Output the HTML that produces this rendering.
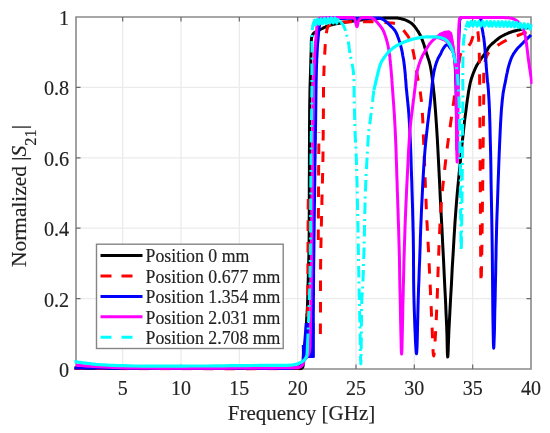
<!DOCTYPE html><html><head><meta charset="utf-8"><style>html,body{margin:0;padding:0;background:#fff;width:550px;height:433px;overflow:hidden}svg{display:block}text{font-family:"Liberation Serif",serif;fill:#222;stroke:#222;stroke-width:0.15px}</style></head><body><svg width="550" height="433" viewBox="0 0 550 433"><path d="M122.67 17.0V369.0M181.00 17.0V369.0M239.33 17.0V369.0M297.67 17.0V369.0M356.00 17.0V369.0M414.33 17.0V369.0M472.67 17.0V369.0M76.0 298.60H531.0M76.0 228.20H531.0M76.0 157.80H531.0M76.0 87.40H531.0" stroke="#ebebeb" stroke-width="1.3" fill="none"/><path d="M76.0 17.0H531.0V369.0H76.0Z" stroke="#8a8a8a" stroke-width="1.6" fill="none"/><path d="M122.67 369.0v-4.5M122.67 17.0v4.5M181.00 369.0v-4.5M181.00 17.0v4.5M239.33 369.0v-4.5M239.33 17.0v4.5M297.67 369.0v-4.5M297.67 17.0v4.5M356.00 369.0v-4.5M356.00 17.0v4.5M414.33 369.0v-4.5M414.33 17.0v4.5M472.67 369.0v-4.5M472.67 17.0v4.5M76.0 298.60h4.5M531.0 298.60h-4.5M76.0 228.20h4.5M531.0 228.20h-4.5M76.0 157.80h4.5M531.0 157.80h-4.5M76.0 87.40h4.5M531.0 87.40h-4.5" stroke="#6a6a6a" stroke-width="1.2" fill="none"/><defs><clipPath id="cp"><rect x="74.5" y="15.5" width="458" height="355"/></clipPath></defs><g clip-path="url(#cp)" fill="none" stroke-linejoin="round">
<path d="M74.0 368.3L76.2 368.3 82.1 368.3 90.9 368.3 101.9 368.3 114.1 368.3 126.7 368.3 139.0 368.3 150.0 368.3 162.1 368.3 175.0 368.3 188.2 368.3 201.6 368.3 214.8 368.3 227.4 368.3 239.3 368.3 250.0 368.3 256.8 368.3 263.5 368.3 270.0 368.3 276.2 368.2 282.0 368.2 287.1 368.2 291.5 368.3 295.0 368.3 296.0 368.3 297.0 368.4 297.8 368.5 298.6 368.6 299.3 368.7 299.9 368.7 300.5 368.6 301.0 368.5 301.3 368.4 301.6 368.2 301.8 368.1 302.1 367.9 302.3 367.7 302.5 367.5 302.6 367.3 302.8 367.0 303.0 366.5 303.1 366.0 303.2 365.4 303.2 364.8 303.2 364.1 303.2 363.4 303.3 362.7 303.3 362.0 303.4 361.2 303.5 360.4 303.5 359.5 303.6 358.7 303.7 357.8 303.8 356.9 303.9 355.9 304.0 355.0 304.1 353.8 304.2 352.6 304.4 351.4 304.5 350.1 304.6 348.8 304.7 347.5 304.9 346.3 305.0 345.0 305.1 343.8 305.3 342.5 305.4 341.3 305.5 340.1 305.7 338.9 305.8 337.6 305.9 336.3 306.0 335.0 306.1 333.3 306.2 331.5 306.3 329.6 306.3 327.7 306.4 325.8 306.4 323.8 306.5 321.9 306.6 320.0 306.7 318.2 306.8 316.3 306.9 314.5 307.1 312.7 307.2 310.9 307.3 309.0 307.4 307.1 307.5 305.0 307.6 302.2 307.7 299.3 307.8 296.2 307.9 293.0 308.0 289.8 308.0 286.6 308.1 283.3 308.2 280.0 308.3 276.5 308.4 273.1 308.5 269.7 308.6 266.2 308.7 262.5 308.8 258.7 308.9 254.5 309.0 250.0 309.1 240.9 309.2 230.5 309.2 219.0 309.3 206.9 309.3 194.5 309.3 182.4 309.4 170.7 309.4 160.0 309.4 151.8 309.5 143.6 309.5 135.6 309.5 127.8 309.6 120.3 309.6 113.1 309.7 106.3 309.8 100.0 309.9 96.0 309.9 92.2 310.0 88.6 310.1 85.1 310.2 81.8 310.3 78.5 310.4 75.3 310.5 72.0 310.6 69.1 310.7 66.2 310.8 63.3 310.8 60.5 310.9 57.7 311.0 55.0 311.1 52.5 311.2 50.0 311.2 48.2 311.3 46.3 311.2 44.5 311.3 42.8 311.3 41.2 311.4 39.6 311.5 38.2 311.8 37.0 312.0 36.4 312.2 35.8 312.4 35.2 312.7 34.7 312.9 34.3 313.3 33.8 313.6 33.4 314.0 33.0 314.5 32.5 315.1 32.1 315.7 31.8 316.4 31.4 317.1 31.1 317.9 30.7 318.6 30.4 319.4 30.0 320.3 29.5 321.3 29.0 322.4 28.5 323.4 27.9 324.5 27.4 325.6 26.9 326.6 26.4 327.7 26.0 328.7 25.6 329.7 25.3 330.7 25.0 331.7 24.8 332.7 24.5 333.8 24.3 334.9 24.0 336.0 23.8 337.6 23.5 339.2 23.2 341.0 22.9 342.7 22.6 344.5 22.3 346.4 22.0 348.2 21.8 350.0 21.5 351.8 21.2 353.7 21.0 355.6 20.7 357.5 20.4 359.3 20.2 361.2 19.9 363.1 19.7 365.0 19.5 366.9 19.3 368.7 19.1 370.6 19.0 372.4 18.8 374.3 18.6 376.2 18.5 378.1 18.4 380.0 18.3 382.1 18.2 384.3 18.1 386.6 18.0 388.8 17.9 391.0 17.9 393.1 17.9 395.0 17.9 396.6 18.0 397.4 18.1 398.2 18.2 398.9 18.3 399.5 18.4 400.1 18.5 400.7 18.7 401.4 18.8 402.0 19.0 402.6 19.2 403.2 19.3 403.9 19.5 404.5 19.7 405.1 19.9 405.7 20.2 406.3 20.4 406.9 20.7 407.6 21.0 408.3 21.4 409.0 21.7 409.7 22.1 410.4 22.6 411.0 23.0 411.7 23.5 412.3 24.0 412.9 24.6 413.5 25.2 414.1 25.9 414.7 26.6 415.2 27.3 415.7 28.0 416.2 28.7 416.7 29.4 417.1 30.0 417.5 30.6 417.9 31.1 418.3 31.7 418.6 32.3 419.0 32.9 419.3 33.5 419.7 34.2 420.2 35.1 420.6 36.1 421.1 37.1 421.5 38.1 421.9 39.2 422.4 40.3 422.8 41.4 423.2 42.5 423.7 43.8 424.1 45.1 424.5 46.5 424.9 47.9 425.4 49.4 425.8 50.8 426.2 52.2 426.6 53.6 427.0 54.9 427.5 56.2 427.9 57.5 428.3 58.7 428.8 60.1 429.2 61.5 429.6 63.0 430.0 64.7 430.7 68.0 431.3 71.6 431.9 75.6 432.4 79.8 433.0 84.4 433.5 89.3 434.1 94.5 434.6 100.0 435.5 111.2 436.4 124.2 437.3 138.4 438.1 153.5 438.9 169.2 439.7 184.9 440.4 200.3 441.2 215.0 442.0 229.3 442.7 244.2 443.5 259.3 444.2 274.3 444.9 288.7 445.6 302.2 446.1 314.4 446.6 325.0 446.8 330.4 447.0 335.8 447.1 341.2 447.2 346.2 447.3 350.5 447.4 353.9 447.6 356.2 447.7 357.0 447.9 356.2 448.0 354.0 448.2 350.6 448.3 346.2 448.5 341.3 448.7 335.9 448.9 330.4 449.2 325.0 449.8 313.7 450.5 300.0 451.4 284.8 452.2 268.6 453.2 252.4 454.1 236.7 455.0 222.3 455.9 210.0 456.4 203.4 456.9 197.4 457.4 191.7 457.9 186.4 458.4 181.2 458.9 176.0 459.4 170.6 460.0 165.0 460.6 158.7 461.3 152.2 461.9 145.6 462.6 139.0 463.3 132.5 464.0 126.1 464.7 119.9 465.5 114.0 466.1 109.3 466.7 104.6 467.3 100.1 468.0 95.6 468.6 91.3 469.4 87.3 470.1 83.5 471.0 80.0 471.6 77.9 472.3 75.9 473.0 74.0 473.7 72.2 474.4 70.5 475.1 68.9 475.8 67.4 476.5 66.0 477.0 65.1 477.4 64.3 477.9 63.6 478.3 62.9 478.8 62.2 479.3 61.5 479.8 60.8 480.3 60.0 481.0 59.0 481.7 58.0 482.4 57.0 483.2 56.0 483.9 54.9 484.7 53.9 485.4 52.9 486.0 52.0 486.5 51.3 486.9 50.6 487.3 49.9 487.6 49.2 488.0 48.5 488.4 47.8 488.8 47.2 489.3 46.6 489.8 46.0 490.3 45.5 490.8 45.0 491.3 44.5 491.8 44.0 492.4 43.5 493.0 43.0 493.6 42.5 494.4 41.8 495.2 41.1 496.0 40.4 496.9 39.7 497.8 39.0 498.7 38.3 499.6 37.6 500.5 37.0 501.3 36.5 502.2 36.0 503.1 35.5 504.0 35.1 504.9 34.6 505.7 34.2 506.6 33.9 507.4 33.5 508.0 33.2 508.7 33.0 509.3 32.7 509.8 32.5 510.4 32.3 511.1 32.0 511.7 31.8 512.4 31.6 513.4 31.3 514.5 31.0 515.6 30.7 516.8 30.4 518.0 30.1 519.2 29.9 520.4 29.6 521.6 29.3 522.9 29.0 524.4 28.6 525.9 28.2 527.5 27.9 528.8 27.5 530.0 27.3 530.7 27.1 531.0 27.0" stroke="#000" stroke-width="3.0"/>
<path d="M320.4 334.0L320.4 333.0 320.4 330.3 320.4 326.3 320.4 321.3 320.5 315.8 320.5 310.1 320.5 304.7 320.5 300.0 320.5 295.7 320.5 291.4 320.5 287.1 320.5 282.8 320.5 278.5 320.5 274.1 320.6 269.6 320.6 265.0 320.7 259.6 320.8 253.9 320.9 248.1 321.0 242.3 321.1 236.5 321.3 230.7 321.4 225.2 321.5 220.0 321.6 216.0 321.7 212.1 321.8 208.3 321.9 204.6 321.9 201.0 322.0 197.4 322.1 193.7 322.2 190.0 322.3 186.3 322.4 182.6 322.5 178.9 322.6 175.3 322.7 171.6 322.7 167.8 322.8 164.0 322.9 160.0 323.0 155.3 323.0 150.5 323.1 145.5 323.1 140.5 323.2 135.4 323.2 130.3 323.2 125.2 323.3 120.0 323.4 114.3 323.4 108.4 323.4 102.3 323.5 96.2 323.5 90.2 323.6 84.6 323.7 79.5 323.8 75.0 323.9 72.7 324.0 70.6 324.0 68.7 324.1 66.8 324.2 65.1 324.3 63.4 324.4 61.7 324.5 60.0 324.6 58.6 324.6 57.3 324.7 56.0 324.7 54.8 324.8 53.5 324.8 52.3 324.9 50.9 325.0 49.5 325.1 47.5 325.2 45.4 325.4 43.2 325.5 40.9 325.7 38.7 325.9 36.5 326.1 34.6 326.4 32.8 326.6 31.8 326.8 30.8 326.9 29.8 327.1 29.0 327.4 28.1 327.7 27.4 328.0 26.6 328.5 26.0 329.1 25.4 329.7 24.9 330.4 24.5 331.2 24.1 332.0 23.8 332.9 23.5 333.8 23.3 334.7 23.0 335.8 22.7 337.0 22.5 338.2 22.4 339.4 22.3 340.7 22.2 342.1 22.1 343.5 22.1 345.0 22.0 347.4 21.9 350.0 21.8 352.9 21.8 355.8 21.7 358.7 21.7 361.5 21.7 363.9 21.7 366.0 21.7 366.9 21.7 367.7 21.7 368.4 21.7 369.1 21.7 369.7 21.7 370.4 21.7 371.2 21.7 372.0 21.7 373.4 21.7 374.9 21.8 376.5 21.9 378.2 22.0 379.9 22.1 381.6 22.2 383.3 22.3 385.0 22.5 386.7 22.7 388.5 22.8 390.2 22.9 392.0 23.1 393.7 23.3 395.3 23.6 396.8 24.0 398.0 24.5 398.7 24.9 399.2 25.3 399.7 25.8 400.2 26.3 400.6 26.8 401.0 27.4 401.5 28.0 402.0 28.6 402.8 29.6 403.7 30.6 404.7 31.8 405.6 33.0 406.6 34.3 407.5 35.5 408.3 36.8 409.0 38.0 409.5 39.1 410.0 40.1 410.4 41.2 410.7 42.2 411.1 43.3 411.4 44.4 411.7 45.5 412.0 46.7 412.4 48.1 412.7 49.5 413.0 51.0 413.4 52.5 413.7 54.0 414.0 55.6 414.3 57.3 414.6 59.0 415.0 61.4 415.4 63.9 415.9 66.5 416.3 69.2 416.7 71.9 417.2 74.7 417.6 77.4 418.0 80.0 418.4 82.5 418.9 84.8 419.3 87.1 419.7 89.5 420.2 91.8 420.6 94.4 420.9 97.1 421.3 100.0 421.8 105.1 422.2 110.8 422.6 116.8 422.9 123.2 423.1 129.8 423.4 136.5 423.7 143.3 424.0 150.0 424.3 157.9 424.7 166.1 425.0 174.6 425.3 183.2 425.6 191.7 426.0 200.0 426.3 207.8 426.6 215.0 426.8 219.8 427.1 224.2 427.3 228.3 427.5 232.3 427.8 236.4 428.0 240.6 428.2 245.1 428.5 250.0 428.9 258.2 429.3 267.5 429.8 277.5 430.3 287.8 430.7 298.0 431.2 307.9 431.6 317.0 432.0 325.0 432.2 329.9 432.4 335.2 432.6 340.3 432.8 345.2 433.0 349.5 433.2 352.9 433.5 355.2 433.7 356.0 434.0 355.2 434.2 353.1 434.5 349.8 434.8 345.6 435.1 340.8 435.4 335.6 435.7 330.2 436.0 325.0 436.5 313.9 437.1 300.7 437.6 285.8 438.1 270.1 438.7 254.1 439.3 238.7 440.0 224.4 440.7 212.0 441.2 204.8 441.8 198.1 442.3 191.8 442.9 185.8 443.5 179.9 444.1 174.1 444.8 168.2 445.5 162.0 446.3 155.4 447.1 148.7 448.0 141.9 448.9 135.2 449.9 128.5 450.8 122.0 451.7 115.8 452.5 110.0 453.1 105.8 453.7 101.9 454.2 98.1 454.8 94.4 455.3 90.8 455.9 87.2 456.4 83.6 457.0 80.0 457.5 76.2 458.0 72.2 458.4 68.1 458.8 64.0 459.3 60.2 459.9 56.8 460.6 54.0 461.5 52.0 461.9 51.5 462.3 51.1 462.7 50.8 463.2 50.5 463.6 50.3 464.1 50.1 464.5 49.8 465.0 49.5 465.6 48.9 466.3 48.3 466.9 47.7 467.6 47.0 468.3 46.3 468.9 45.5 469.5 44.8 470.0 44.0 470.5 43.2 470.9 42.4 471.2 41.5 471.6 40.6 471.9 39.7 472.2 38.8 472.5 37.9 472.8 37.0 473.1 36.1 473.3 35.1 473.5 34.1 473.8 33.0 474.0 32.1 474.2 31.2 474.5 30.5 474.9 30.0 475.1 29.8 475.4 29.6 475.7 29.4 476.0 29.3 476.3 29.2 476.5 29.2 476.8 29.2 477.0 29.3 477.3 29.6 477.5 30.1 477.7 30.9 477.9 31.7 478.0 32.6 478.1 33.6 478.2 34.6 478.3 35.6 478.5 37.1 478.6 38.6 478.7 40.2 478.9 41.9 478.9 43.7 479.0 45.6 479.1 47.7 479.2 50.0 479.3 54.6 479.4 59.6 479.5 65.2 479.6 71.2 479.6 77.6 479.7 84.6 479.7 92.0 479.8 100.0 479.9 119.9 480.1 146.3 480.2 176.3 480.4 207.2 480.5 236.1 480.7 260.3 480.9 276.9 481.1 283.0 481.3 280.6 481.4 274.1 481.6 264.4 481.8 252.4 482.0 239.0 482.2 225.2 482.3 211.9 482.5 200.0 482.7 187.6 482.8 174.5 483.0 160.9 483.1 147.4 483.3 134.2 483.4 121.6 483.5 110.1 483.7 100.0 483.8 94.6 483.7 89.5 483.7 84.7 483.7 80.2 483.7 75.9 483.8 72.0 484.1 68.3 484.5 65.0 484.8 63.2 485.1 61.5 485.5 59.9 485.9 58.5 486.4 57.1 486.9 55.8 487.4 54.7 488.0 53.6 488.5 52.9 489.0 52.3 489.5 51.8 490.0 51.3 490.6 50.9 491.1 50.4 491.7 50.0 492.3 49.5 492.9 49.0 493.6 48.4 494.3 47.9 495.0 47.3 495.7 46.8 496.4 46.3 497.1 45.8 497.8 45.3 498.5 44.8 499.2 44.4 499.9 43.9 500.6 43.5 501.3 43.0 502.0 42.6 502.7 42.2 503.4 41.8 504.1 41.4 504.7 41.1 505.4 40.7 506.0 40.4 506.7 40.0 507.4 39.7 508.1 39.4 508.9 39.0 510.0 38.5 511.2 38.0 512.4 37.5 513.7 37.0 515.0 36.5 516.3 36.0 517.7 35.5 519.0 35.0 520.6 34.4 522.5 33.7 524.5 32.9 526.4 32.2 528.2 31.5 529.7 31.0 530.6 30.6 531.0 30.5" stroke="#f00" stroke-width="3.0" stroke-dasharray="10.5 11"/>
<path d="M74.0 368.3L82.6 368.4 105.6 368.5 138.4 368.7 176.7 368.8 215.9 368.9 251.7 368.9 279.5 368.7 295.0 368.3 296.2 368.2 297.2 368.2 298.0 368.1 298.7 368.1 299.3 368.0 299.9 367.9 300.4 367.7 301.0 367.5 301.5 367.3 301.9 367.1 302.3 366.8 302.7 366.6 303.0 366.2 303.4 365.9 303.7 365.5 304.0 365.0 304.5 363.9 304.8 362.6 305.1 361.0 305.3 359.3 305.5 357.5 305.7 355.6 305.8 353.8 306.0 352.0 306.2 350.0 306.4 348.1 306.6 346.1 306.7 344.0 306.9 341.9 307.0 339.7 307.1 337.4 307.2 335.0 307.3 331.3 307.4 327.4 307.5 323.3 307.6 319.0 307.6 314.6 307.6 309.9 307.7 305.0 307.7 300.0 307.8 292.2 307.8 283.6 307.9 274.5 307.9 265.0 308.0 255.5 308.0 246.4 308.1 237.8 308.1 230.0 308.1 224.6 308.2 218.8 308.2 212.9 308.2 207.4 308.3 202.5 308.3 198.5 308.3 195.9 308.3 195.0" stroke="#f00" stroke-width="3.0" stroke-dasharray="10.5 11"/>
<path d="M318.3 240.0L318.3 238.8 318.3 235.6 318.3 230.9 318.4 225.0 318.4 218.5 318.4 211.9 318.5 205.5 318.5 200.0 318.5 195.0 318.5 189.8 318.6 184.7 318.6 179.6 318.6 174.5 318.6 169.5 318.7 164.7 318.7 160.0 318.7 155.9 318.8 151.3 318.8 146.7 318.9 142.2 318.9 138.2 319.0 134.9 319.0 132.8 319.0 132.0" stroke="#f00" stroke-width="3.0" stroke-dasharray="10.5 11"/>
<path d="M313.2 357.0L313.2 356.0 313.2 353.1 313.2 348.9 313.2 343.6 313.2 337.7 313.3 331.5 313.3 325.5 313.3 320.0 313.3 313.7 313.4 307.1 313.4 300.4 313.5 293.5 313.5 286.4 313.6 279.3 313.6 272.2 313.7 265.0 313.8 257.0 313.9 248.8 314.0 240.3 314.1 231.9 314.2 223.5 314.3 215.3 314.4 207.4 314.5 200.0 314.6 194.5 314.6 189.2 314.7 184.0 314.8 179.0 314.8 174.2 314.9 169.4 314.9 164.7 315.0 160.0 315.1 156.1 315.1 152.4 315.2 148.9 315.2 145.4 315.3 141.8 315.4 138.1 315.4 134.2 315.5 130.0 315.6 123.2 315.7 115.5 315.8 107.2 315.9 98.8 316.0 90.5 316.1 82.7 316.3 75.7 316.4 70.0 316.5 67.6 316.5 65.5 316.6 63.6 316.7 61.9 316.7 60.2 316.8 58.5 316.9 56.8 317.0 55.0 317.1 53.1 317.2 51.3 317.3 49.4 317.4 47.6 317.5 45.7 317.6 43.8 317.8 41.9 318.0 40.0 318.2 37.7 318.4 35.2 318.6 32.6 318.9 30.0 319.2 27.5 319.6 25.3 320.1 23.4 320.8 22.0 321.2 21.5 321.6 21.0 322.1 20.7 322.6 20.4 323.1 20.1 323.7 19.9 324.3 19.7 325.0 19.5 326.4 19.2 327.9 18.9 329.7 18.8 331.6 18.7 333.6 18.6 335.7 18.6 337.8 18.6 340.0 18.5 343.4 18.4 347.2 18.3 351.2 18.3 355.4 18.2 359.5 18.2 363.4 18.2 366.9 18.2 370.0 18.2 371.5 18.2 373.0 18.1 374.3 18.1 375.6 18.0 376.8 18.0 377.9 18.0 379.0 18.1 380.0 18.3 380.7 18.5 381.4 18.7 382.1 19.0 382.7 19.3 383.3 19.7 383.9 20.0 384.4 20.4 385.0 20.8 385.6 21.2 386.1 21.7 386.7 22.2 387.2 22.7 387.8 23.2 388.3 23.7 388.8 24.2 389.4 24.8 390.1 25.4 390.8 26.1 391.5 26.8 392.2 27.4 393.0 28.1 393.6 28.9 394.3 29.7 394.9 30.5 395.5 31.5 396.1 32.6 396.6 33.7 397.1 34.9 397.6 36.1 398.0 37.3 398.5 38.5 398.9 39.7 399.3 40.9 399.7 42.0 400.0 43.2 400.4 44.3 400.7 45.5 401.0 46.8 401.3 48.1 401.6 49.4 402.0 51.2 402.4 53.2 402.7 55.2 403.1 57.2 403.5 59.3 403.8 61.5 404.1 63.7 404.4 66.0 404.7 68.8 405.0 71.7 405.3 74.8 405.5 77.9 405.8 81.0 406.0 84.0 406.2 87.1 406.5 90.0 406.8 92.6 407.0 95.1 407.3 97.6 407.5 100.1 407.8 102.6 408.0 105.0 408.3 107.5 408.5 110.0 408.7 112.4 408.9 114.7 409.0 117.0 409.2 119.3 409.3 121.7 409.5 124.2 409.6 127.0 409.8 130.0 410.1 136.0 410.4 142.9 410.7 150.4 411.0 158.3 411.2 166.5 411.5 174.6 411.8 182.5 412.0 190.0 412.2 196.4 412.4 202.7 412.6 208.9 412.7 215.0 412.9 221.1 413.0 227.3 413.2 233.6 413.3 240.0 413.4 247.3 413.5 254.7 413.5 262.2 413.6 269.9 413.6 277.5 413.7 285.1 413.8 292.6 414.0 300.0 414.2 307.6 414.5 316.2 414.8 325.1 415.2 333.8 415.5 341.6 415.9 348.0 416.2 352.2 416.5 353.8 416.7 352.2 417.0 347.9 417.2 341.4 417.4 333.5 417.6 324.8 417.8 315.8 418.0 307.4 418.2 300.0 418.4 293.6 418.6 287.2 418.9 280.7 419.1 274.3 419.3 268.0 419.6 261.8 419.8 255.8 420.0 250.0 420.2 245.4 420.3 241.1 420.4 236.9 420.6 232.8 420.7 228.6 420.9 224.4 421.1 219.8 421.3 215.0 421.6 207.8 422.0 199.9 422.4 191.7 422.8 183.2 423.3 174.6 423.8 166.1 424.4 157.8 425.0 150.0 425.6 143.3 426.3 136.7 427.0 130.1 427.7 123.7 428.5 117.4 429.2 111.3 430.0 105.5 430.6 100.0 431.0 96.0 431.4 92.2 431.8 88.4 432.1 84.8 432.5 81.3 432.9 78.0 433.4 74.9 433.9 72.0 434.3 70.1 434.8 68.2 435.2 66.5 435.7 64.8 436.2 63.2 436.7 61.7 437.3 60.3 437.8 59.0 438.2 58.2 438.6 57.4 439.0 56.7 439.4 56.0 439.8 55.4 440.1 54.8 440.5 54.2 440.8 53.6 441.0 53.2 441.1 52.9 441.2 52.5 441.4 52.2 441.5 51.9 441.6 51.5 441.8 51.2 442.0 50.8 442.5 50.0 443.0 49.1 443.6 48.1 444.3 47.1 445.0 46.1 445.7 45.4 446.4 44.8 447.0 44.6 447.4 44.7 447.9 45.0 448.3 45.4 448.7 45.9 449.1 46.4 449.5 47.0 449.8 47.5 450.2 48.0 450.5 48.4 450.9 48.7 451.2 49.0 451.5 49.4 451.8 49.7 452.1 50.1 452.3 50.5 452.6 51.0 452.9 51.7 453.2 52.5 453.5 53.3 453.7 54.2 453.9 55.1 454.1 56.2 454.3 57.3 454.5 58.5 454.8 61.3 455.1 64.6 455.3 68.3 455.5 72.3 455.6 76.5 455.7 80.9 455.9 85.4 456.0 90.0 456.2 97.4 456.3 106.5 456.5 116.4 456.6 126.3 456.7 135.4 456.8 143.0 456.9 148.1 457.0 150.0 457.1 148.2 457.2 143.4 457.4 136.3 457.5 127.5 457.6 117.8 457.7 107.8 457.9 98.3 458.0 90.0 458.1 82.2 458.2 73.9 458.3 65.5 458.4 57.1 458.5 49.1 458.7 41.8 459.0 35.3 459.3 30.0 459.4 28.0 459.5 26.1 459.5 24.3 459.5 22.7 459.6 21.2 459.9 19.9 460.3 18.8 461.0 18.0 461.8 17.5 462.7 17.4 463.8 17.4 465.0 17.4 466.3 17.4 467.6 17.4 468.8 17.5 470.0 17.5 471.3 17.4 472.7 17.4 474.1 17.4 475.5 17.4 476.8 17.4 478.1 17.4 479.1 17.5 480.0 18.0 480.6 18.7 481.0 19.6 481.2 20.7 481.4 21.9 481.5 23.1 481.5 24.4 481.6 25.7 481.8 27.0 482.1 28.5 482.4 30.0 482.7 31.6 483.0 33.2 483.2 34.8 483.5 36.4 483.8 38.1 484.0 39.7 484.2 41.4 484.4 43.1 484.6 44.8 484.7 46.5 484.9 48.2 485.0 50.0 485.1 51.8 485.3 53.6 485.5 55.7 485.6 57.9 485.8 60.1 486.0 62.4 486.1 64.7 486.3 67.1 486.5 69.5 486.7 72.0 487.0 75.1 487.2 78.1 487.5 81.2 487.9 84.4 488.2 87.8 488.5 91.5 488.7 95.5 489.0 100.0 489.5 110.6 489.9 123.1 490.2 137.0 490.6 152.1 490.9 167.8 491.1 183.8 491.4 199.7 491.7 215.0 492.0 233.0 492.3 253.9 492.5 275.9 492.7 297.6 492.9 317.3 493.2 333.4 493.4 344.2 493.7 348.2 493.9 346.2 494.1 340.7 494.4 332.5 494.6 322.5 494.8 311.5 495.1 300.1 495.3 289.4 495.5 280.0 495.7 271.9 495.8 264.1 496.0 256.3 496.1 248.6 496.3 240.7 496.5 232.5 496.7 224.0 497.0 215.0 497.5 201.5 498.0 186.3 498.6 170.0 499.2 153.5 499.9 137.4 500.6 122.7 501.4 109.9 502.3 100.0 502.7 96.8 503.0 94.1 503.4 91.6 503.8 89.4 504.2 87.3 504.6 85.2 505.1 83.2 505.5 81.0 505.9 78.9 506.3 76.8 506.7 74.7 507.2 72.6 507.6 70.6 508.0 68.6 508.5 66.8 509.0 65.0 509.4 63.7 509.8 62.5 510.2 61.3 510.6 60.2 511.0 59.1 511.4 58.0 511.9 56.9 512.4 55.9 512.9 55.0 513.4 54.0 514.0 53.1 514.6 52.3 515.2 51.4 515.8 50.6 516.4 49.8 517.0 49.0 517.5 48.4 518.1 47.7 518.6 47.2 519.2 46.6 519.8 46.1 520.4 45.5 521.0 44.9 521.6 44.3 522.4 43.5 523.3 42.6 524.2 41.6 525.2 40.7 526.1 39.8 527.0 38.9 527.8 38.1 528.5 37.4 528.9 37.0 529.3 36.6 529.7 36.2 530.1 35.8 530.5 35.5 530.8 35.2 530.9 35.1 531.0 35.0" stroke="#00f" stroke-width="3.0"/>
<path d="M74.0 368.0L76.2 368.0 82.1 368.0 90.9 368.1 101.9 368.1 114.1 368.2 126.7 368.2 139.0 368.3 150.0 368.3 162.1 368.3 175.0 368.3 188.2 368.4 201.6 368.4 214.8 368.4 227.4 368.3 239.3 368.3 250.0 368.3 256.8 368.3 263.6 368.4 270.3 368.4 276.7 368.5 282.5 368.5 287.6 368.4 291.8 368.3 295.0 368.0 295.7 367.9 296.3 367.8 296.9 367.7 297.4 367.6 297.8 367.5 298.2 367.4 298.6 367.2 299.0 367.0 299.4 366.8 299.7 366.5 300.1 366.2 300.4 365.9 300.7 365.6 301.0 365.3 301.2 364.9 301.5 364.5 301.8 364.0 302.0 363.6 302.2 363.1 302.4 362.5 302.6 362.0 302.7 361.4 302.9 360.7 303.0 360.0 303.2 358.3 303.3 356.2 303.4 353.7 303.4 351.2 303.4 348.8 303.3 346.9 303.3 345.5 303.3 345.0" stroke="#00f" stroke-width="3.0"/>
<path d="M302.5 360.5L303 345L304.8 323L314.5 323L314.5 358L305 358Z" fill="#00f"/>
<path d="M76.0 365.2L76.4 365.2 77.5 365.3 79.1 365.5 81.1 365.6 83.3 365.8 85.7 366.0 87.9 366.2 90.0 366.3 92.3 366.4 94.7 366.6 97.2 366.7 99.7 366.8 102.2 367.0 104.8 367.1 107.4 367.2 110.0 367.3 112.8 367.4 115.6 367.5 118.3 367.6 121.1 367.7 124.0 367.8 127.1 367.9 130.4 367.9 134.0 368.0 140.6 368.1 148.1 368.1 156.1 368.2 164.6 368.2 173.3 368.2 182.3 368.2 191.2 368.2 200.0 368.2 210.1 368.2 220.9 368.2 232.2 368.1 243.5 368.1 254.3 368.0 264.3 367.9 273.0 367.9 280.0 367.8 282.5 367.8 284.8 367.7 286.8 367.7 288.7 367.7 290.5 367.7 292.1 367.6 293.6 367.6 295.0 367.5 295.8 367.5 296.5 367.4 297.2 367.4 297.8 367.4 298.4 367.4 299.0 367.3 299.5 367.2 300.0 367.0 300.4 366.8 300.7 366.6 301.1 366.4 301.4 366.2 301.7 365.9 302.0 365.6 302.2 365.3 302.5 365.0 302.8 364.5 303.1 363.9 303.3 363.3 303.5 362.6 303.7 361.9 304.0 361.2 304.2 360.6 304.5 360.0 304.8 359.6 305.1 359.2 305.4 358.8 305.7 358.5 306.1 358.2 306.4 357.8 306.7 357.4 307.0 357.0 307.3 356.5 307.7 355.9 308.0 355.4 308.3 354.8 308.6 354.2 308.8 353.5 309.1 352.8 309.3 352.0 309.6 350.4 309.8 348.5 310.0 346.5 310.0 344.2 310.1 341.9 310.1 339.6 310.1 337.3 310.2 335.0 310.3 332.6 310.3 330.2 310.4 327.7 310.4 325.2 310.5 322.7 310.5 320.2 310.6 317.6 310.6 315.0 310.7 312.0 310.7 309.1 310.8 306.1 310.9 303.0 310.9 299.9 311.0 296.7 311.0 293.4 311.1 290.0 311.2 285.6 311.2 281.0 311.3 276.4 311.4 271.6 311.4 266.6 311.5 261.3 311.5 255.8 311.6 250.0 311.7 240.3 311.8 229.6 311.9 218.1 312.1 206.1 312.2 194.0 312.3 182.1 312.4 170.6 312.5 160.0 312.6 151.8 312.6 143.6 312.7 135.6 312.7 127.8 312.8 120.3 312.8 113.1 312.9 106.3 313.0 100.0 313.1 96.0 313.2 92.2 313.3 88.6 313.4 85.1 313.5 81.8 313.6 78.5 313.8 75.3 313.9 72.0 314.0 69.1 314.1 66.2 314.3 63.3 314.4 60.5 314.6 57.7 314.7 55.0 314.8 52.5 315.0 50.0 315.1 48.2 315.2 46.5 315.4 44.8 315.5 43.2 315.6 41.6 315.7 40.1 315.9 38.5 316.0 37.0 316.1 35.6 316.2 34.1 316.3 32.7 316.4 31.3 316.6 29.9 316.7 28.5 316.8 27.2 317.0 26.0 317.1 25.0 317.2 24.0 317.3 23.0 317.4 22.0 317.5 21.1 317.7 20.3 318.1 19.6 318.5 19.0 319.1 18.6 319.7 18.3 320.5 18.1 321.3 18.0 322.1 18.0 323.1 17.9 324.0 17.9 325.0 17.8 326.6 17.7 328.4 17.6 330.3 17.5 332.3 17.5 334.3 17.5 336.3 17.5 338.2 17.5 340.0 17.5 341.4 17.5 342.7 17.5 344.1 17.4 345.4 17.4 346.7 17.4 347.9 17.4 349.0 17.5 350.0 17.5 350.6 17.5 351.2 17.5 351.7 17.5 352.3 17.5 352.8 17.6 353.2 17.6 353.6 17.8 354.0 18.0 354.3 18.3 354.6 18.7 354.8 19.2 354.9 19.8 355.1 20.3 355.2 20.9 355.3 21.5 355.5 22.0 355.7 22.6 355.9 23.3 356.1 24.1 356.3 24.9 356.5 25.5 356.6 26.1 356.8 26.5 357.0 26.6 357.2 26.4 357.3 25.9 357.5 25.2 357.7 24.4 357.8 23.4 358.0 22.5 358.2 21.7 358.5 21.0 358.7 20.5 359.0 20.1 359.3 19.7 359.5 19.3 359.8 18.9 360.2 18.6 360.6 18.3 361.0 18.0 361.7 17.7 362.5 17.6 363.4 17.5 364.3 17.4 365.3 17.5 366.2 17.5 367.2 17.5 368.0 17.6 368.7 17.6 369.3 17.7 370.0 17.8 370.6 17.8 371.3 17.9 371.9 18.1 372.4 18.3 373.0 18.5 373.5 18.8 374.0 19.1 374.4 19.5 374.8 19.9 375.2 20.3 375.6 20.7 376.0 21.1 376.4 21.5 376.7 21.9 377.1 22.2 377.4 22.6 377.7 22.9 378.0 23.3 378.3 23.7 378.7 24.1 379.0 24.5 379.4 25.0 379.9 25.6 380.4 26.2 380.9 26.8 381.3 27.4 381.8 28.1 382.3 28.8 382.7 29.5 383.2 30.5 383.7 31.6 384.2 32.7 384.6 33.9 385.1 35.2 385.5 36.4 385.9 37.7 386.3 39.0 386.7 40.4 387.1 41.9 387.5 43.4 387.8 44.9 388.2 46.5 388.5 48.1 388.8 49.8 389.1 51.5 389.4 53.8 389.8 56.2 390.0 58.7 390.3 61.3 390.5 63.9 390.8 66.5 391.0 69.1 391.2 71.6 391.4 73.9 391.6 76.1 391.8 78.2 391.9 80.4 392.1 82.6 392.2 84.9 392.4 87.4 392.6 90.0 392.9 94.2 393.2 98.7 393.6 103.5 393.9 108.5 394.3 113.7 394.6 119.1 394.9 124.5 395.2 130.0 395.5 136.9 395.8 144.1 396.1 151.6 396.3 159.2 396.6 167.0 396.8 174.7 397.1 182.4 397.3 190.0 397.6 197.5 397.8 205.1 398.1 212.7 398.3 220.3 398.6 227.9 398.8 235.4 399.0 242.8 399.2 250.0 399.4 256.5 399.5 262.8 399.6 269.0 399.7 275.2 399.8 281.3 399.9 287.5 400.1 293.7 400.2 300.0 400.4 307.4 400.5 315.9 400.7 324.8 400.9 333.6 401.1 341.6 401.2 348.0 401.4 352.4 401.6 354.0 401.8 352.4 402.0 348.0 402.1 341.6 402.3 333.6 402.5 324.8 402.7 315.9 402.8 307.4 403.0 300.0 403.2 293.7 403.3 287.5 403.5 281.3 403.6 275.2 403.8 269.0 403.9 262.8 404.1 256.5 404.3 250.0 404.5 242.8 404.8 235.4 405.0 227.9 405.3 220.3 405.6 212.7 405.9 205.1 406.3 197.5 406.6 190.0 407.0 182.3 407.4 174.3 407.8 166.2 408.2 158.2 408.6 150.3 409.1 142.9 409.5 136.1 410.0 130.0 410.3 126.7 410.6 123.7 410.9 120.9 411.2 118.3 411.5 115.7 411.9 113.2 412.2 110.6 412.5 108.0 412.8 105.4 413.1 102.9 413.4 100.3 413.8 97.8 414.1 95.3 414.4 92.8 414.7 90.4 415.0 88.0 415.2 85.9 415.5 83.8 415.7 81.8 415.9 79.8 416.1 77.8 416.3 75.8 416.6 73.9 417.0 72.0 417.4 70.3 417.8 68.6 418.3 66.9 418.8 65.2 419.3 63.6 419.9 62.0 420.4 60.5 421.0 59.0 421.5 57.9 422.0 56.8 422.5 55.7 423.0 54.7 423.6 53.8 424.1 52.8 424.7 51.8 425.3 50.8 425.9 49.7 426.6 48.7 427.2 47.6 427.9 46.5 428.6 45.5 429.3 44.4 430.0 43.4 430.8 42.5 431.6 41.6 432.4 40.8 433.3 39.9 434.2 39.1 435.1 38.3 436.0 37.6 436.9 36.9 437.8 36.3 438.5 35.8 439.2 35.4 439.9 35.0 440.6 34.6 441.3 34.3 442.0 34.0 442.6 33.7 443.3 33.5 443.8 33.3 444.4 33.2 445.0 33.0 445.5 32.9 446.0 32.8 446.5 32.8 447.0 32.8 447.5 32.8 447.9 32.9 448.2 32.9 448.5 33.0 448.8 33.1 449.1 33.3 449.4 33.5 449.7 33.7 450.0 34.0 450.5 34.9 451.0 36.2 451.4 37.8 451.8 39.5 452.1 41.4 452.4 43.3 452.7 45.1 453.0 46.7 453.2 48.1 453.4 49.5 453.6 50.8 453.8 52.2 453.9 53.6 454.1 54.9 454.2 56.4 454.4 57.8 454.6 59.4 454.8 61.0 455.0 62.6 455.2 64.2 455.3 65.9 455.5 67.7 455.7 69.8 455.8 72.0 456.0 77.5 456.2 84.1 456.3 91.6 456.3 99.6 456.3 107.8 456.4 115.8 456.4 123.3 456.5 130.0 456.6 134.9 456.7 140.2 456.8 145.5 456.8 150.6 456.9 155.1 457.0 158.7 457.1 161.1 457.2 162.0 457.3 160.2 457.4 155.2 457.5 147.8 457.6 138.7 457.7 128.6 457.8 118.3 457.9 108.5 458.0 100.0 458.1 92.2 458.1 84.1 458.2 75.9 458.3 67.7 458.3 59.9 458.4 52.5 458.5 45.8 458.6 40.0 458.7 37.2 458.7 34.5 458.7 31.9 458.8 29.5 458.9 27.3 458.9 25.3 459.1 23.6 459.2 22.0 459.3 21.3 459.3 20.7 459.4 20.1 459.4 19.6 459.5 19.1 459.6 18.7 459.8 18.3 460.0 18.0 460.2 17.8 460.4 17.7 460.6 17.6 460.8 17.6 461.1 17.5 461.4 17.5 461.7 17.4 462.0 17.4 462.7 17.4 463.5 17.4 464.4 17.4 465.3 17.4 466.4 17.4 467.5 17.4 468.7 17.5 470.0 17.5 472.9 17.5 476.5 17.5 480.4 17.4 484.6 17.4 488.9 17.4 493.0 17.4 496.7 17.4 500.0 17.5 501.9 17.6 503.6 17.6 505.3 17.7 506.9 17.7 508.5 17.8 509.9 18.0 511.2 18.2 512.4 18.5 513.1 18.7 513.8 19.0 514.3 19.3 514.9 19.6 515.4 19.9 515.9 20.2 516.5 20.6 517.0 21.0 517.6 21.5 518.2 22.0 518.8 22.6 519.4 23.2 520.0 23.8 520.6 24.5 521.1 25.2 521.6 25.9 522.1 26.8 522.6 27.8 523.1 28.8 523.5 29.9 523.9 31.1 524.3 32.3 524.6 33.6 525.0 35.0 525.6 37.5 526.0 40.4 526.5 43.5 526.9 46.7 527.3 50.1 527.7 53.5 528.1 56.8 528.5 60.0 529.0 63.4 529.5 67.2 530.1 71.1 530.7 75.0 531.2 78.5 531.6 81.4 531.9 83.3 532.0 84.0" stroke="#f0f" stroke-width="3.0"/>
<path d="M436 38L440 33.5L445 31.5L449 31L451.5 33L453.5 45L455 56L452 52L449 45L445 41L440 39Z" fill="#f0f" stroke="#f0f" stroke-width="1.5"/>
<path d="M74.0 361.5L74.3 361.5 75.2 361.7 76.5 361.8 78.1 362.1 79.9 362.3 81.7 362.6 83.5 362.8 85.0 363.0 86.3 363.2 87.6 363.4 88.8 363.5 90.1 363.7 91.4 363.9 92.8 364.1 94.3 364.2 96.0 364.4 99.6 364.7 103.6 364.9 108.1 365.2 112.9 365.4 118.0 365.6 123.2 365.7 128.6 365.9 134.0 366.0 141.4 366.1 149.3 366.2 157.6 366.2 166.1 366.2 174.7 366.2 183.3 366.1 191.8 366.0 200.0 366.0 207.8 366.0 215.6 365.9 223.5 365.8 231.3 365.7 238.9 365.7 246.3 365.6 253.4 365.5 260.0 365.4 264.8 365.4 269.5 365.4 274.2 365.4 278.7 365.4 282.9 365.4 286.7 365.3 290.0 365.1 292.7 364.9 293.6 364.8 294.4 364.6 295.1 364.5 295.7 364.3 296.3 364.2 296.8 364.0 297.4 363.8 298.0 363.6 298.5 363.4 299.1 363.2 299.6 362.9 300.1 362.7 300.6 362.4 301.1 362.2 301.5 361.9 302.0 361.6 302.4 361.3 302.8 361.1 303.2 360.8 303.6 360.5 304.0 360.2 304.4 359.9 304.7 359.6 305.0 359.2 305.3 358.8 305.6 358.4 305.8 358.0 306.0 357.6 306.3 357.1 306.5 356.6 306.6 356.1 306.8 355.5 307.0 354.3 307.2 352.8 307.3 351.1 307.4 349.3 307.5 347.6 307.5 346.3 307.5 345.3 307.5 345.0" stroke="#0ff" stroke-width="3.2"/>
<path d="M373.9 90.0L374.0 89.6 374.3 88.4 374.7 86.7 375.2 84.6 375.7 82.2 376.3 79.9 376.8 77.6 377.3 75.7 377.7 74.1 378.1 72.4 378.5 70.8 378.9 69.2 379.3 67.6 379.8 66.1 380.3 64.6 380.8 63.3 381.3 62.3 381.7 61.4 382.2 60.5 382.8 59.6 383.3 58.8 383.9 58.0 384.4 57.2 385.0 56.4 385.6 55.6 386.1 54.9 386.7 54.2 387.3 53.5 387.9 52.8 388.5 52.1 389.1 51.4 389.8 50.8 390.5 50.1 391.3 49.5 392.0 48.9 392.8 48.2 393.6 47.6 394.4 47.1 395.2 46.5 396.0 46.0 396.7 45.6 397.4 45.2 398.1 44.8 398.8 44.5 399.4 44.2 400.1 43.9 400.9 43.5 401.6 43.2 402.4 42.8 403.2 42.5 404.0 42.1 404.9 41.8 405.7 41.4 406.6 41.1 407.5 40.7 408.5 40.4 409.8 40.0 411.2 39.6 412.6 39.2 414.1 38.8 415.6 38.5 417.1 38.1 418.6 37.8 420.0 37.6 421.3 37.4 422.5 37.2 423.8 37.1 425.0 37.0 426.3 36.9 427.5 36.9 428.8 36.8 430.0 36.8 431.3 36.8 432.6 36.8 433.9 36.8 435.2 36.9 436.5 37.0 437.7 37.1 438.9 37.3 440.0 37.5 440.9 37.7 441.7 37.9 442.5 38.2 443.2 38.5 444.0 38.8 444.7 39.2 445.4 39.6 446.0 40.0 446.6 40.5 447.2 41.0 447.7 41.6 448.2 42.3 448.7 42.9 449.1 43.6 449.6 44.3 450.0 45.0 450.5 45.9 451.0 47.0 451.5 48.1 452.0 49.3 452.4 50.3 452.7 51.2 452.9 51.8 453.0 52.0" stroke="#0ff" stroke-width="3.2"/>
<path d="M307.5 345.0L307.5 344.3 307.6 342.5 307.7 339.7 307.9 336.3 308.1 332.6 308.2 328.8 308.4 325.2 308.5 322.0 308.6 319.3 308.7 316.6 308.8 313.9 308.9 311.3 309.0 308.6 309.1 305.8 309.2 303.0 309.3 300.0 309.4 296.1 309.5 292.3 309.7 288.3 309.8 284.2 309.9 279.9 310.0 275.3 310.1 270.3 310.2 265.0 310.3 254.4 310.5 242.0 310.6 228.5 310.6 214.2 310.7 199.7 310.8 185.5 310.9 172.1 311.0 160.0 311.1 151.6 311.2 143.5 311.3 135.7 311.4 128.2 311.5 120.9 311.6 113.8 311.7 106.8 311.8 100.0 311.8 94.6 311.9 89.4 311.9 84.3 311.9 79.3 311.9 74.4 311.9 69.6 311.9 64.8 312.0 60.0 312.0 55.3 312.0 50.5 311.9 45.5 311.9 40.7 312.0 36.1 312.1 31.8 312.5 28.1 313.0 25.0 313.4 23.7 313.9 22.3 314.5 21.1 315.1 19.9 315.7 18.9 316.2 18.2 316.5 17.7 316.6 17.5" stroke="#0ff" stroke-width="3.0" stroke-dasharray="11.5 4 2 5"/>
<path d="M340.0 21.0L340.1 21.1 340.4 21.5 340.9 22.0 341.4 22.7 342.0 23.5 342.7 24.3 343.2 25.2 343.7 26.0 344.3 27.4 344.9 28.9 345.5 30.6 346.0 32.4 346.6 34.2 347.0 36.1 347.5 37.9 347.9 39.7 348.3 41.4 348.6 43.1 348.8 44.8 349.0 46.5 349.2 48.2 349.5 50.0 349.7 51.8 350.0 53.6 350.4 55.8 350.8 57.9 351.3 60.1 351.8 62.4 352.3 64.7 352.7 67.1 353.1 69.5 353.4 72.0 353.7 75.2 353.9 78.6 354.0 82.0 354.0 85.6 354.1 89.2 354.1 92.8 354.1 96.4 354.2 100.0 354.3 103.7 354.4 107.4 354.5 111.2 354.6 114.9 354.7 118.7 354.8 122.5 354.9 126.2 355.0 130.0 355.1 133.7 355.3 137.3 355.5 140.8 355.7 144.4 355.9 148.0 356.1 151.8 356.2 155.8 356.4 160.0 356.6 166.5 356.8 173.6 357.0 181.0 357.2 188.7 357.3 196.6 357.5 204.5 357.6 212.4 357.8 220.0 358.0 227.6 358.1 235.3 358.2 243.0 358.4 250.8 358.5 258.4 358.6 265.9 358.8 273.1 358.9 280.0 359.0 285.4 359.1 290.6 359.2 295.7 359.4 300.7 359.5 305.6 359.6 310.4 359.7 315.2 359.8 320.0 359.9 324.6 360.0 329.5 360.1 334.3 360.2 339.1 360.3 343.7 360.3 348.0 360.4 351.8 360.5 355.0 360.5 356.5 360.6 358.0 360.6 359.5 360.7 360.8 360.7 362.0 360.7 362.9 360.8 363.5 360.8 363.7 360.9 363.0 360.9 361.3 361.0 358.6 361.1 355.2 361.1 351.4 361.2 347.5 361.2 343.6 361.3 340.0 361.4 335.3 361.4 330.1 361.4 324.6 361.5 319.0 361.5 313.5 361.6 308.4 361.7 303.8 361.8 300.0 361.9 298.5 362.0 297.2 362.0 296.1 362.1 295.0 362.2 293.9 362.3 292.8 362.4 291.5 362.5 290.0 362.7 286.3 362.9 282.1 363.1 277.3 363.3 272.2 363.4 266.8 363.6 261.2 363.8 255.6 364.0 250.0 364.2 243.1 364.4 235.9 364.5 228.4 364.7 220.8 364.8 213.0 365.0 205.3 365.2 197.6 365.5 190.0 365.8 182.0 366.2 173.4 366.7 164.5 367.2 155.7 367.6 147.5 368.1 140.2 368.5 134.2 368.9 130.0 369.0 129.2 369.1 128.6 369.2 128.1 369.2 127.6 369.3 127.2 369.4 126.7 369.5 126.2 369.6 125.5 369.8 123.9 370.0 122.1 370.3 120.1 370.5 117.9 370.8 115.7 371.1 113.4 371.3 111.1 371.6 108.9 371.9 106.3 372.3 103.4 372.7 100.2 373.0 97.2 373.4 94.4 373.6 92.1 373.8 90.6 373.9 90.0" stroke="#0ff" stroke-width="3.0" stroke-dasharray="11.5 4 2 5"/>
<path d="M453.0 52.0L453.0 52.2 453.1 52.6 453.3 53.3 453.5 54.1 453.7 55.0 454.0 56.0 454.2 56.9 454.4 57.8 454.7 58.9 454.9 59.9 455.2 61.0 455.5 62.1 455.7 63.3 456.0 64.6 456.3 66.0 456.5 67.5 456.9 70.5 457.3 73.9 457.6 77.5 457.9 81.4 458.2 85.7 458.5 90.2 458.8 95.0 459.0 100.0 459.4 110.1 459.6 121.9 459.9 134.9 460.0 148.7 460.1 162.5 460.3 176.1 460.4 188.7 460.5 200.0 460.6 207.9 460.7 216.3 460.8 224.9 460.9 232.9 460.9 240.1 461.0 245.8 461.1 249.6 461.2 251.0 461.3 249.6 461.4 245.8 461.5 240.0 461.6 232.8 461.7 224.7 461.8 216.2 461.9 207.8 462.0 200.0 462.1 189.9 462.2 179.0 462.3 167.6 462.4 155.9 462.5 144.0 462.6 132.3 462.7 120.9 462.8 110.0 462.9 100.4 462.9 90.5 462.8 80.5 462.8 70.7 462.9 61.5 463.0 53.1 463.3 45.8 463.7 40.0 463.9 38.0 464.2 36.3 464.4 34.6 464.7 33.2 465.0 31.8 465.3 30.6 465.6 29.6 465.9 28.6 466.1 28.1 466.3 27.6 466.5 27.2 466.8 26.8 467.0 26.4 467.1 26.1 467.3 26.0 467.3 25.9" stroke="#0ff" stroke-width="3.0" stroke-dasharray="11.5 4 2 5"/>
<path d="M313.0 26.6L314.5 20.3 316.0 24.6 317.7 19.1 319.4 24.2 321.0 18.8 322.7 23.8 324.5 18.4 326.2 23.5 328.0 18.1 329.7 23.1 331.5 17.8 333.3 23.0 335.0 17.9 336.8 23.2 338.4 18.2" stroke="#0ff" stroke-width="3"/>
<path d="M466.0 27.4L467.6 22.1 469.2 26.5 471.2 21.5 473.0 26.2 475.0 21.4 477.2 26.2 478.8 21.4 480.9 26.2 482.7 21.4 484.6 26.2 486.7 21.4 488.8 26.2 490.4 21.5 492.0 26.3 494.2 21.5 496.2 26.3 498.2 21.6 500.0 26.4 502.0 21.6 503.9 26.4 505.7 21.7 507.5 26.5 509.2 21.7 510.9 26.6 512.9 22.0 514.5 27.0 516.4 22.5 518.3 27.6 520.0 23.1 521.9 28.2 524.2 23.6 525.8 28.6 528.1 24.1 530.1 29.2 531.8 24.6" stroke="#0ff" stroke-width="3"/>
</g><text x="122.67" y="394.5" font-size="20" text-anchor="middle">5</text><text x="181.00" y="394.5" font-size="20" text-anchor="middle">10</text><text x="239.33" y="394.5" font-size="20" text-anchor="middle">15</text><text x="297.67" y="394.5" font-size="20" text-anchor="middle">20</text><text x="356.00" y="394.5" font-size="20" text-anchor="middle">25</text><text x="414.33" y="394.5" font-size="20" text-anchor="middle">30</text><text x="472.67" y="394.5" font-size="20" text-anchor="middle">35</text><text x="531.00" y="394.5" font-size="20" text-anchor="middle">40</text><text x="69.2" y="377.00" font-size="20.2" text-anchor="end">0</text><text x="69.2" y="306.60" font-size="20.2" text-anchor="end">0.2</text><text x="69.2" y="236.20" font-size="20.2" text-anchor="end">0.4</text><text x="69.2" y="165.80" font-size="20.2" text-anchor="end">0.6</text><text x="69.2" y="95.40" font-size="20.2" text-anchor="end">0.8</text><text x="69.2" y="25.00" font-size="20.2" text-anchor="end">1</text><text x="301.5" y="420" font-size="21" text-anchor="middle">Frequency [GHz]</text><text transform="translate(25.8,267) rotate(-90)" font-size="21.4">Normalized |<tspan font-style="italic">S</tspan><tspan font-size="16.5" dy="10.5">21</tspan><tspan dy="-10.5">|</tspan></text><rect x="96.5" y="244.2" width="186.7" height="104.3" fill="#fff" stroke="#858585" stroke-width="1.4"/><path d="M100.5 255.50H142.5" stroke="#000" stroke-width="3"/><text x="145.6" y="262.30" font-size="17.8">Position 0 mm</text><path d="M100.5 275.95H142.5" stroke="#ff0000" stroke-width="3" stroke-dasharray="11 10"/><text x="145.6" y="282.75" font-size="17.8">Position 0.677 mm</text><path d="M100.5 296.40H142.5" stroke="#0000ff" stroke-width="3"/><text x="145.6" y="303.20" font-size="17.8">Position 1.354 mm</text><path d="M100.5 316.85H142.5" stroke="#ff00ff" stroke-width="3"/><text x="145.6" y="323.65" font-size="17.8">Position 2.031 mm</text><path d="M100.5 337.30H142.5" stroke="#00ffff" stroke-width="3" stroke-dasharray="11 10"/><text x="145.6" y="344.10" font-size="17.8">Position 2.708 mm</text></svg></body></html>
